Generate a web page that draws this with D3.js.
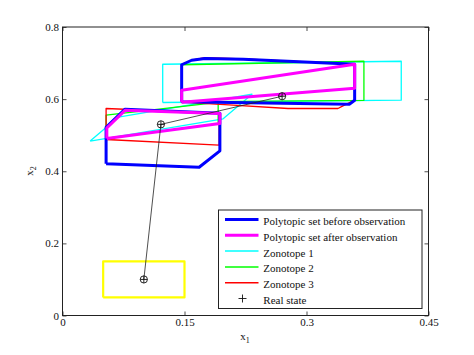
<!DOCTYPE html>
<html><head><meta charset="utf-8">
<script src="https://cdn.jsdelivr.net/npm/d3@7"></script>
<style>html,body{margin:0;padding:0;background:#fff}svg{display:block}</style>
</head><body><svg id="c" width="474" height="355"></svg>
<script>
// ---- data ----
const xTicks = [0, 0.15, 0.3, 0.45];
const yTicks = [0, 0.2, 0.4, 0.6, 0.8];
const xTickLabels = ["0", "0.15", "0.3", "0.45"];
const yTickLabels = ["0", "0.2", "0.4", "0.6", "0.8"];

const initialSet = [[0.05,0.05],[0.15,0.05],[0.15,0.15],[0.05,0.15]];

const zonotope1Step1 = [[0.034,0.4836],[0.0688,0.5503],[0.233,0.6135],[0.1975,0.5455]];
const zonotope1Step2 = [[0.1232,0.5907],[0.1232,0.6967],[0.4165,0.705],[0.4165,0.597]];
const zonotope2Step1 = [[0.0536,0.491],[0.0536,0.5556],[0.1914,0.5907],[0.1914,0.532]];
const zonotope2Step2 = [[0.1465,0.5924],[0.1465,0.6953],[0.3706,0.705],[0.3706,0.5968]];
const zonotope3Step1 = [[0.0536,0.488],[0.0536,0.574],[0.1926,0.561],[0.1926,0.4725]];
const zonotope3Step2 = [[0.1465,0.5915],[0.1465,0.6953],[0.1588,0.7078],[0.1751,0.715],[0.222,0.7115],[0.3592,0.6967],[0.3592,0.597],[0.3448,0.5813],[0.3387,0.574],[0.2773,0.574],[0.2098,0.5832]];

const polyBeforeStep1 = [[0.0536,0.4207],[0.0536,0.522],[0.0769,0.5722],[0.1935,0.5607],[0.1935,0.4567],[0.168,0.411]];
const polyBeforeStep2 = [[0.1465,0.5924],[0.1465,0.6953],[0.1588,0.7078],[0.1751,0.7125],[0.2221,0.7103],[0.3592,0.6967],[0.3592,0.597],[0.353,0.586]];
const polyAfterStep1 = [[0.0545,0.491],[0.0545,0.520],[0.0769,0.569],[0.1935,0.560],[0.1935,0.5326]];
const polyAfterStep2 = [[0.1465,0.5915],[0.1465,0.6247],[0.3592,0.6967],[0.3592,0.630]];

const realStateX = [0.1, 0.121, 0.27];
const realStateY = [0.1, 0.53, 0.608];

const legendLabels = ["Polytopic set before observation","Polytopic set after observation","Zonotope 1","Zonotope 2","Zonotope 3","Real state"];
const legendColors = ["#0000ff","#ff00ff","#00ffff","#00ff00","#ff0000","#000"];
const legendWidths = [3,3,1.5,1.5,1.5,0];

// ---- chart ----
const svg = d3.select("#c");
const L = 62.5, R = 428.5, T = 27, B = 315.5;
const x = d3.scaleLinear().domain([0, 0.45]).range([L, R]);
const y = d3.scaleLinear().domain([0, 0.8]).range([B, T]);
const font = "'Liberation Serif','Times New Roman',serif";

svg.append("rect").attr("width",474).attr("height",355).attr("fill","#fff");
svg.append("rect").attr("x",L).attr("y",T).attr("width",R-L).attr("height",B-T).attr("fill","#fff");

const line = d3.line().x(d=>x(d[0])).y(d=>y(d[1]));
function poly(data, color, w){
  svg.append("path").attr("d", line(data.concat([data[0]])))
    .attr("fill","none").attr("stroke",color).attr("stroke-width",w)
    .attr("stroke-linejoin","round");
}
const g = svg.append("g");
poly(zonotope1Step1, "#00ffff", 1.3);
poly(zonotope1Step2, "#00ffff", 1.3);
poly(zonotope2Step1, "#00ff00", 1.3);
poly(zonotope2Step2, "#00ff00", 1.3);
poly(zonotope3Step1, "#ff0000", 1.3);
poly(zonotope3Step2, "#ff0000", 1.3);
poly(polyBeforeStep1, "#0000ff", 3);
poly(polyBeforeStep2, "#0000ff", 3);
poly(polyAfterStep1, "#ff00ff", 3);
poly(polyAfterStep2, "#ff00ff", 3);
poly(initialSet, "#ffff00", 2.2);

// trajectory
const pts = realStateX.map((v,i)=>[v, realStateY[i]]);
svg.append("path").attr("d", line(pts)).attr("fill","none").attr("stroke","#222").attr("stroke-width",0.8);
pts.forEach(p=>{
  const cx = x(p[0]), cy = y(p[1]);
  svg.append("circle").attr("cx",cx).attr("cy",cy).attr("r",3.6).attr("fill","none").attr("stroke","#111").attr("stroke-width",0.9);
  svg.append("path").attr("d",`M${cx-3.6},${cy}H${cx+3.6}M${cx},${cy-3.6}V${cy+3.6}`).attr("stroke","#111").attr("stroke-width",0.9);
});

// axes
const ax = (a)=>a.tickSizeOuter(0);
svg.append("g").attr("transform",`translate(0,${B})`)
  .call(ax(d3.axisBottom(x).tickValues(xTicks).tickFormat((d,i)=>xTickLabels[i]).tickSizeInner(-4).tickPadding(3)));
svg.append("g").attr("transform",`translate(0,${T})`)
  .call(ax(d3.axisTop(x).tickValues(xTicks).tickFormat("").tickSizeInner(-4)));
svg.append("g").attr("transform",`translate(${L},0)`)
  .call(ax(d3.axisLeft(y).tickValues(yTicks).tickFormat((d,i)=>yTickLabels[i]).tickSizeInner(-4).tickPadding(3.5)));
svg.append("g").attr("transform",`translate(${R},0)`)
  .call(ax(d3.axisRight(y).tickValues(yTicks).tickFormat("").tickSizeInner(-4)));
svg.selectAll(".domain").remove();
svg.selectAll(".tick line").attr("stroke","#222").attr("stroke-width",0.8);
svg.selectAll(".tick text").attr("font-family",font).attr("font-size",11).attr("fill","#111");
svg.append("rect").attr("x",L).attr("y",T).attr("width",R-L).attr("height",B-T)
  .attr("fill","none").attr("stroke","#222").attr("stroke-width",1);

// axis labels
const xl = svg.append("text").attr("x",245).attr("y",340).attr("text-anchor","middle")
  .attr("font-family",font).attr("font-size",11).attr("fill","#111");
xl.append("tspan").text("x");
xl.append("tspan").attr("dy",3).attr("font-size",8).text("1");
const yl = svg.append("text").attr("transform","translate(33,171) rotate(-90)").attr("text-anchor","middle")
  .attr("font-family",font).attr("font-size",11).attr("fill","#111");
yl.append("tspan").text("x");
yl.append("tspan").attr("dy",3).attr("font-size",8).text("2");

// legend
const lg = svg.append("g");
lg.append("rect").attr("x",218.5).attr("y",210).attr("width",203.5).attr("height",98.5)
  .attr("fill","#fff").attr("stroke","#222").attr("stroke-width",1);
legendLabels.forEach((lab,i)=>{
  const yy = 219.5 + i*15.8;
  if (legendWidths[i] > 0) {
    lg.append("line").attr("x1",225).attr("x2",258.5).attr("y1",yy).attr("y2",yy)
      .attr("stroke",legendColors[i]).attr("stroke-width",legendWidths[i]);
  } else {
    lg.append("path").attr("d",`M${238.5},${yy}H${246.5}M${242.5},${yy-4}V${yy+4}`)
      .attr("stroke","#111").attr("stroke-width",0.9);
  }
  lg.append("text").attr("x",263.3).attr("y",yy+1.5).attr("dominant-baseline","central")
    .attr("font-family",font).attr("font-size",11).attr("fill","#111").text(lab);
});
</script></body></html>
